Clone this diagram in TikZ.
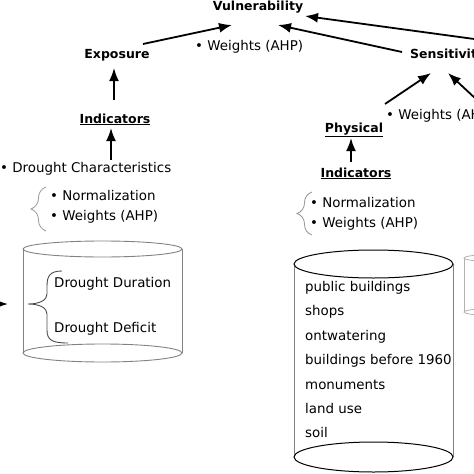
\documentclass[tikz,border=0pt]{standalone}
\usepackage{fontspec}
\setmainfont{DejaVu Sans}
\usetikzlibrary{arrows.meta}
\usetikzlibrary{decorations.pathreplacing}
\usetikzlibrary{positioning}
\definecolor{wall}{RGB}{130,130,130}
\definecolor{brcgray}{RGB}{150,150,150}

\begin{document}
\begin{tikzpicture}[x=1pt,y=-1pt,
	txt/.style={font=\fontsize{13.4}{15}\selectfont,inner sep=0pt,anchor=base west},
	head/.style={font=\fontsize{12.5}{15}\selectfont\bfseries,inner sep=0pt,anchor=base},
	arr/.style={line width=1.8pt,-{Latex[length=13pt,width=10pt]}},
	smallbrace/.style={brcgray,line width=.8pt,decorate,decoration={brace,amplitude=15pt}}]
	
	\useasboundingbox (0,0) rectangle (474,474);
	\clip (0,0) rectangle (474,474);
	
	% top level
	\node[head] (vul) at (258,10) {Vulnerability};
	\node[head] (expo) at (117,58) {Exposure};
	\node[head,anchor=base west] (sens) at (410,58) {Sensitivity};
	\node[txt] (wtop) at (195,50) {\textbullet\ Weights (AHP)};
	
	\draw[arr] ([shift={(26,-14)}]expo.base) -- ([shift={(-26,15)}]vul.base);
	\draw[arr] ([shift={(-8,-6)}]sens.base west) -- ([shift={(20,15)}]vul.base);
	\coordinate (offtop) at (500,42.5);
	\draw[arr] (offtop) -- ([shift={(47,6)}]vul.base);
	
	% exposure branch
	\node[head] (indl) at (115,123) {\underline{Indicators}};
	\node[txt] (dchar) at (0,172) {\textbullet\ Drought Characteristics};
	\node[txt] (norml) at (50,200) {\textbullet\ Normalization};
	\node[txt] (wl) at (50,220) {\textbullet\ Weights (AHP)};
	
	\draw[arr] ([shift={(-1,-23)}]indl.base) -- ([shift={(-3,10)}]expo.base);
	\draw[arr] ([shift={(111,-12)}]dchar.base west) -- ([shift={(-4,5)}]indl.base);
	\draw[smallbrace] (46,231) -- (46,187);
	
	% drought cylinder
	\draw[wall,line width=.8pt] (23,249) -- (23,353) (182,249) -- (182,353);
	\draw[wall,line width=.9pt] (102.5,249) ellipse [x radius=79.5,y radius=8];
	\draw[wall,line width=.9pt] (102.5,353) ellipse [x radius=79.5,y radius=9];
	\node[txt] (ddur) at (54,287) {Drought Duration};
	\node[txt] (ddef) at (54,332) {Drought Deficit};
	\draw[black!70,line width=.9pt] (62,271) .. controls (50,271) and (47,276) .. (47,286) -- (47,294)
		.. controls (47,300) and (40,304) .. (28,304) .. controls (40,304) and (47,308) .. (47,314)
		-- (47,330) .. controls (47,340) and (52,343) .. (68,343);
	\coordinate (offleft) at (-20,304);
	\coordinate (cylin) at (8,304);
	\draw[arr] (offleft) -- (cylin);
	
	% sensitivity branch
	\node[txt] (wr) at (386,119) {\textbullet\ Weights (AHP)};
	\node[head] (phys) at (354,132) {\underline{Physical}};
	\node[head] (indr) at (356,177) {\underline{Indicators}};
	\node[txt] (normr) at (310,207) {\textbullet\ Normalization};
	\node[txt] (wr2) at (310,227) {\textbullet\ Weights (AHP)};
	
	\draw[arr] ([shift={(31,-28)}]phys.base) -- ([shift={(21,15)}]sens.base west);
	\coordinate (offsens) at (490,112);
	\draw[arr] (offsens) -- ([shift={(38,15)}]sens.base west);
	\draw[arr] ([shift={(-5,-15)}]indr.base) -- ([shift={(-3,6)}]phys.base);
	\draw[smallbrace] (312,235) -- (312,192);
	
	% physical cylinder
	\draw[wall,line width=.8pt] (294,264) -- (294,457) (453,264) -- (453,457);
	\draw[black,line width=1pt] (373.5,264) ellipse [x radius=79.5,y radius=14];
	\draw[black,line width=1pt] (373.5,457) ellipse [x radius=79.5,y radius=15];
	\foreach \t [count=\i] in {public buildings,shops,ontwatering,buildings before 1960,monuments,land use,soil}
		\node[txt] (phys\i) at (305,267+\i*24.4) {\t};
	
	% next cylinder, cut off
	\draw[black!30,line width=.8pt] (464,258) -- (464,312);
	\draw[black!30,line width=.8pt] (530,258) ellipse [x radius=66,y radius=5];
	\draw[black!30,line width=.8pt] (530,312) ellipse [x radius=66,y radius=5];
	
\end{tikzpicture}
\end{document}
